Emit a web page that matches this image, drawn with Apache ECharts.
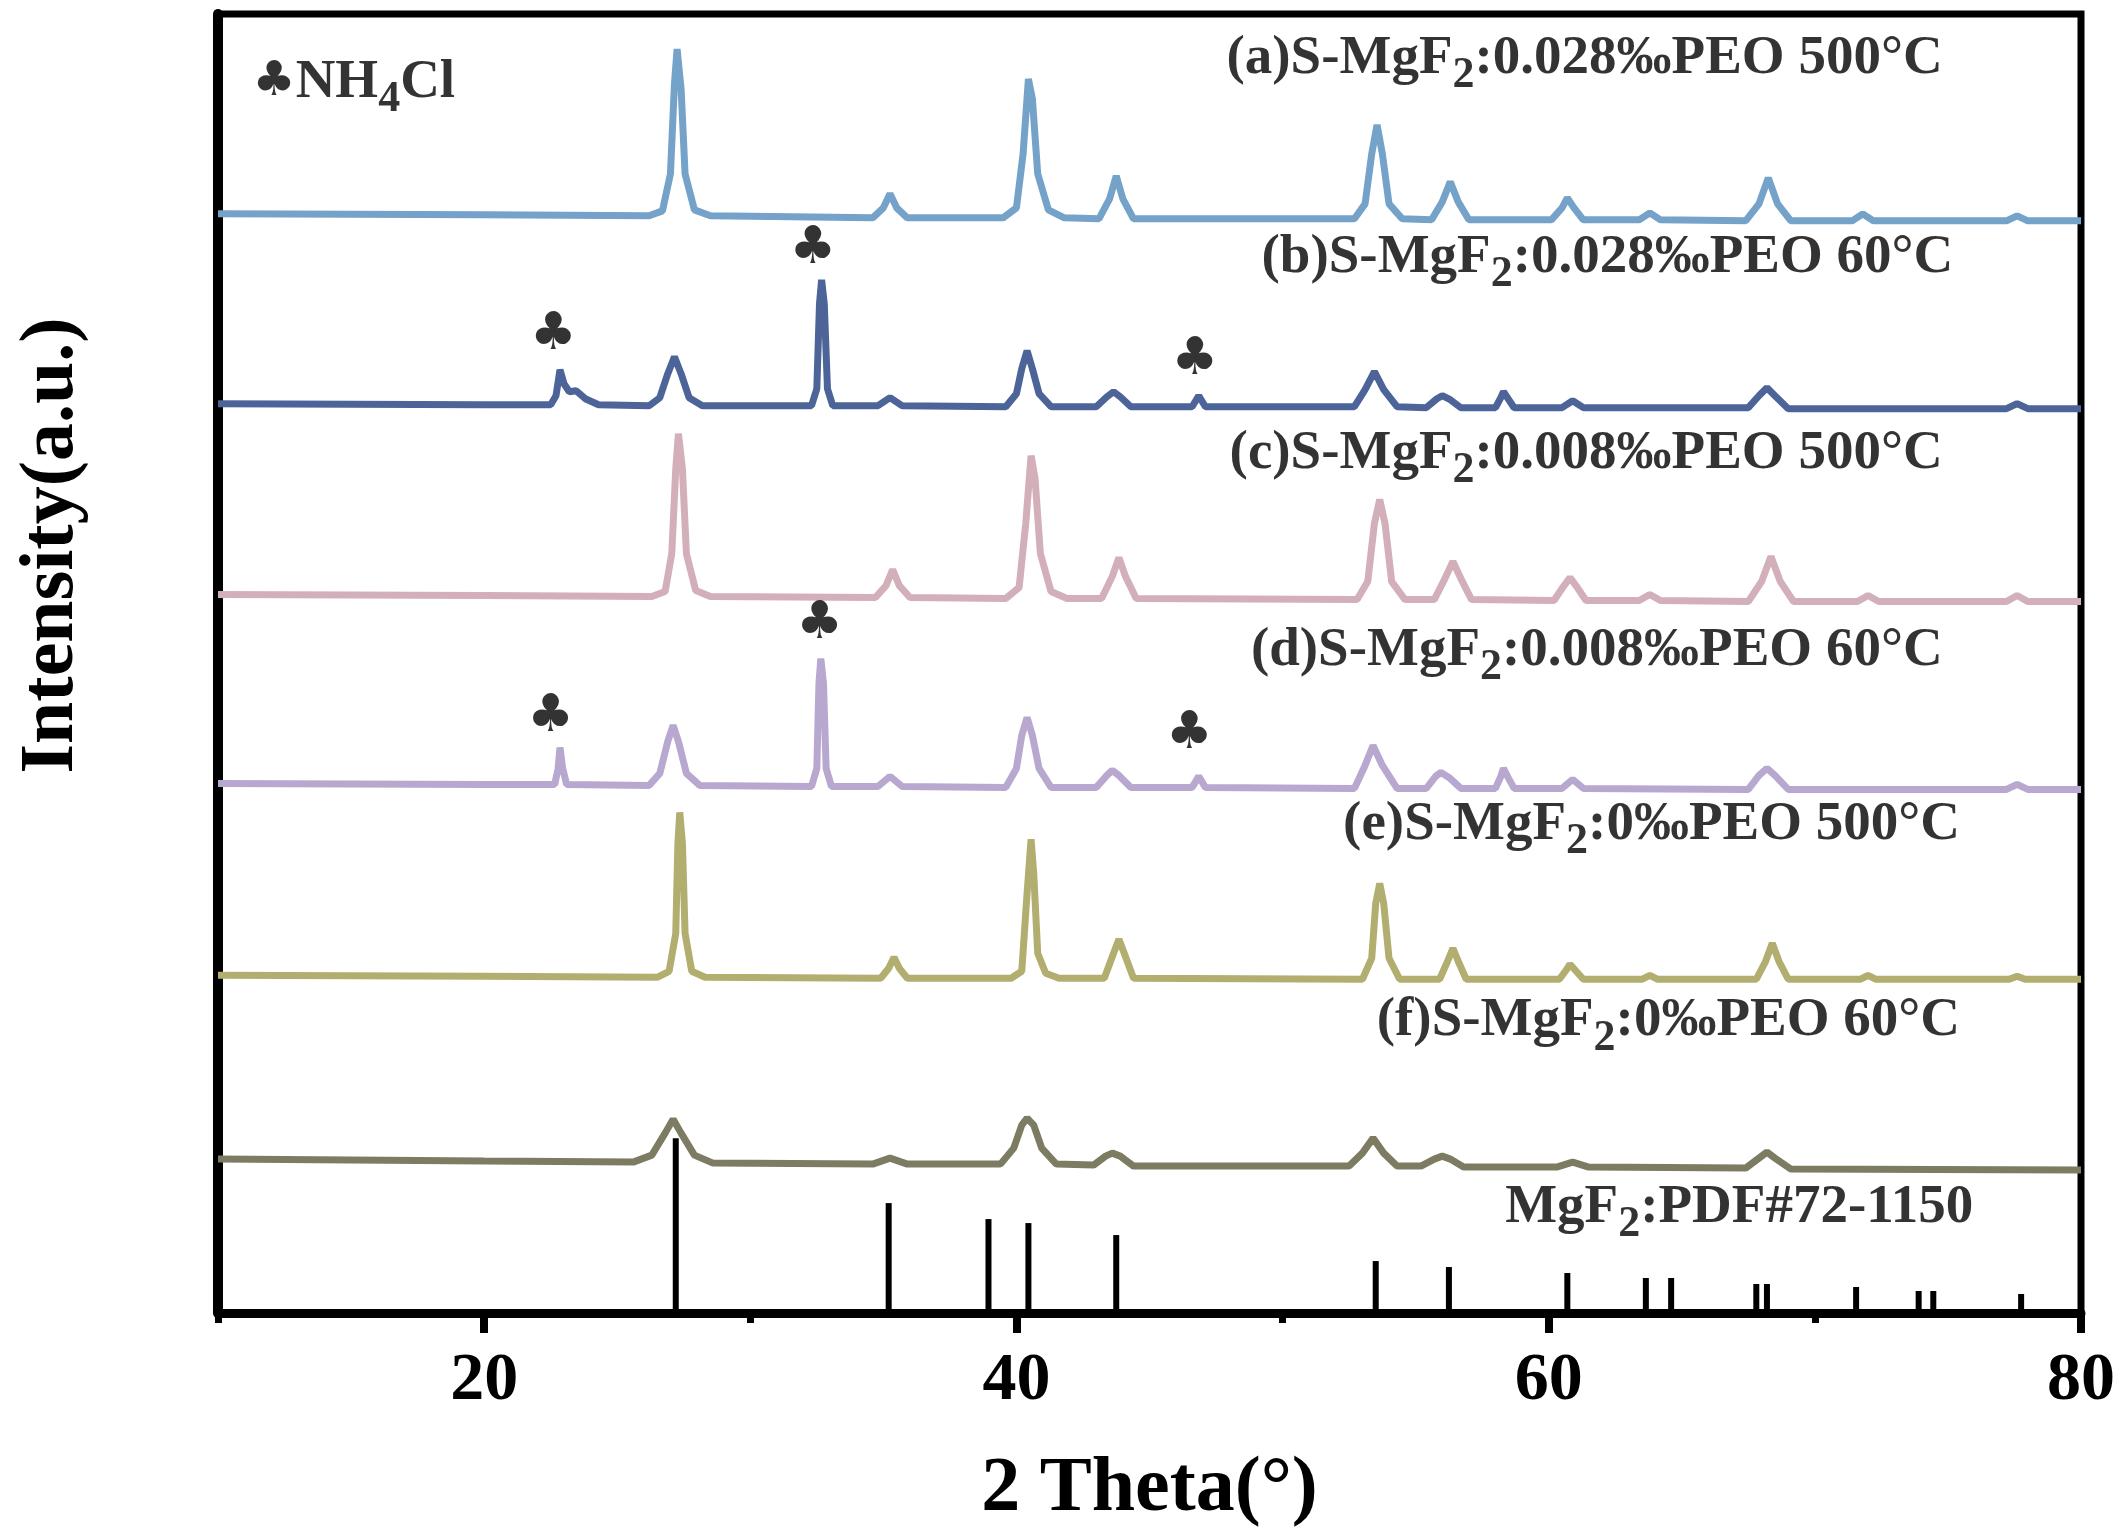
<!DOCTYPE html>
<html>
<head>
<meta charset="utf-8">
<script src="https://cdn.jsdelivr.net/npm/echarts@6/dist/echarts.min.js"></script>
<style>
html,body{margin:0;padding:0;background:#fff;}
#chart{width:2121px;height:1537px;}
</style>
</head>
<body>
<div id="chart"></div>
<script>
// ---- data: [2theta (deg), stacked intensity (a.u.)] ----
const patternA = [[10,1100],[20,1099],[26.2,1098],[26.7,1103],[27.0,1140],[27.15,1230],[27.25,1265],[27.4,1225],[27.55,1140],[27.9,1104],[28.5,1098],
[34.6,1096],[35.0,1106],[35.25,1120],[35.5,1106],[35.9,1096],
[39.5,1096],[40.0,1106],[40.25,1160],[40.45,1235],[40.6,1215],[40.8,1140],[41.2,1104],[41.8,1096],
[43.1,1095],[43.5,1115],[43.75,1138],[44.0,1115],[44.4,1095],
[52.7,1095],[53.1,1110],[53.35,1160],[53.55,1189],[53.75,1160],[54.0,1110],[54.5,1095],
[55.6,1094],[56.0,1112],[56.3,1132],[56.6,1112],[57.0,1094],
[60.1,1094],[60.5,1106],[60.7,1116],[60.95,1106],[61.3,1094],
[63.4,1094],[63.8,1101],[64.2,1094],
[67.4,1093],[67.9,1110],[68.25,1136],[68.6,1110],[69.1,1093],
[71.4,1093],[71.8,1100],[72.2,1093],
[77.2,1093],[77.6,1098],[78.0,1093],[80,1093]];

const patternB = [[10,910],[20,909],[22.5,909],[22.7,918],[22.85,944],[23.0,930],[23.2,922],[23.45,923],[23.8,915],[24.3,909],
[26.2,908],[26.6,916],[26.9,940],[27.15,957],[27.4,940],[27.7,916],[28.2,908],
[32.3,908],[32.5,925],[32.6,1010],[32.68,1034],[32.78,1010],[32.9,925],[33.1,908],
[34.8,908],[35.25,916],[35.7,908],
[39.6,907],[40.0,920],[40.2,945],[40.4,963],[40.6,945],[40.85,920],[41.3,907],
[43.0,907],[43.4,917],[43.65,922],[43.9,917],[44.3,907],
[46.6,907],[46.85,918],[47.1,907],
[52.7,907],[53.1,924],[53.45,942],[53.8,924],[54.3,907],
[55.4,906],[55.8,915],[56.0,918],[56.3,914],[56.7,906],
[58.0,906],[58.2,916],[58.3,922],[58.45,916],[58.7,906],
[60.5,906],[60.9,913],[61.3,906],
[67.5,906],[67.9,918],[68.2,926],[68.5,918],[69.0,905],
[77.2,905],[77.6,910],[78.0,905],[80,905]];

const patternC = [[10,719],[20,718],[26.3,717],[26.8,722],[27.05,760],[27.2,845],[27.3,880],[27.45,845],[27.6,760],[27.95,723],[28.5,717],
[34.7,716],[35.1,728],[35.35,744],[35.6,728],[36.0,716],
[39.6,715],[40.1,726],[40.35,790],[40.55,858],[40.7,835],[40.9,760],[41.3,722],[41.9,715],
[43.2,715],[43.6,737],[43.85,756],[44.1,737],[44.5,715],
[52.8,714],[53.2,732],[53.45,790],[53.65,814],[53.85,790],[54.1,732],[54.6,714],
[55.7,714],[56.1,735],[56.4,752],[56.7,735],[57.1,714],
[60.2,713],[60.55,727],[60.8,736],[61.05,727],[61.4,713],
[63.4,713],[63.8,719],[64.2,713],
[67.5,712],[68.0,732],[68.35,757],[68.7,732],[69.2,712],
[71.6,712],[72.0,718],[72.4,712],
[77.2,712],[77.6,718],[78.0,712],[80,712]];

const patternD = [[10,530],[20,529],[22.65,529],[22.78,545],[22.85,566],[22.95,545],[23.1,529],
[26.2,528],[26.6,540],[26.9,572],[27.1,588],[27.3,572],[27.6,540],[28.1,528],
[32.3,527],[32.5,545],[32.58,630],[32.65,655],[32.75,630],[32.85,545],[33.05,527],
[34.8,527],[35.25,537],[35.7,527],
[39.6,526],[40.0,545],[40.2,578],[40.4,596],[40.6,578],[40.85,545],[41.3,526],
[43.0,526],[43.4,538],[43.6,543],[43.85,538],[44.3,526],
[46.6,526],[46.85,537],[47.1,526],
[52.7,525],[53.1,548],[53.4,568],[53.75,548],[54.3,525],
[55.4,525],[55.75,537],[55.95,541],[56.25,536],[56.7,525],
[58.0,525],[58.2,537],[58.3,545],[58.45,537],[58.7,525],
[60.5,525],[60.9,534],[61.3,525],
[67.5,524],[67.9,538],[68.2,545],[68.5,538],[69.0,524],
[77.2,524],[77.6,529],[78.0,524],[80,524]];

const patternE = [[10,338],[20,337],[26.5,336],[26.95,342],[27.2,380],[27.28,470],[27.35,501],[27.45,470],[27.55,380],[27.8,342],[28.3,336],
[34.9,335],[35.2,345],[35.4,356],[35.6,345],[35.9,335],
[39.8,335],[40.2,342],[40.4,420],[40.55,474],[40.65,440],[40.8,360],[41.1,340],[41.6,335],
[43.3,335],[43.65,360],[43.85,374],[44.05,360],[44.4,335],
[53.0,334],[53.35,355],[53.5,410],[53.65,430],[53.8,410],[54.0,355],[54.4,334],
[55.9,334],[56.2,352],[56.4,365],[56.6,352],[56.9,334],
[60.4,334],[60.65,343],[60.8,349],[61.0,343],[61.3,334],
[63.5,334],[63.8,338],[64.1,334],
[67.8,334],[68.15,352],[68.4,370],[68.65,352],[69.0,334],
[71.7,334],[72.0,338],[72.3,334],
[77.3,334],[77.6,337],[77.9,334],[80,334]];

const patternF = [[10,154],[20,152],[25.6,151],[26.3,158],[26.8,180],[27.1,194],[27.4,180],[27.9,158],[28.6,150],
[34.6,149],[35.25,155],[35.9,149],
[39.4,149],[39.9,165],[40.2,188],[40.4,195],[40.65,188],[40.95,165],[41.5,149],
[42.9,148],[43.35,157],[43.6,160],[43.9,157],[44.4,147],
[52.5,147],[53.0,160],[53.4,175],[53.8,160],[54.3,147],
[55.2,147],[55.7,154],[56.0,157],[56.3,154],[56.8,146],
[60.3,146],[60.9,151],[61.5,146],
[67.4,145],[67.9,155],[68.2,161],[68.5,155],[69.1,144],
[80,143]];

// MgF2 reference card PDF#72-1150 (stick pattern)
const refTheta = [27.2, 35.2, 38.95, 40.45, 43.75, 53.5, 56.25, 60.7, 63.65, 64.6, 67.8, 68.2, 71.55, 73.9, 74.45, 77.75];
const refIntensity = [175, 110, 94, 90, 78, 52, 46, 40, 35, 35, 29, 29, 26, 22, 22, 19];

// NH4Cl marker positions [2theta, intensity]
const nh4clMarks = [[22.6, 978], [32.35, 1064], [46.7, 953], [22.5, 596], [32.6, 689], [46.5, 579]];

// sample labels: [anchor 2theta (right edge), anchor intensity, text before subscript, subscript, text after]
const sampleLabels = [
  [74.8, 1255, '(a)S-MgF', '2', ':0.028\u2030PEO 500\u00B0C'],
  [75.2, 1056, '(b)S-MgF', '2', ':0.028\u2030PEO 60\u00B0C'],
  [74.8, 860, '(c)S-MgF', '2', ':0.008\u2030PEO 500\u00B0C'],
  [74.8, 663, '(d)S-MgF', '2', ':0.008\u2030PEO 60\u00B0C'],
  [75.45, 489, '(e)S-MgF', '2', ':0\u2030PEO 500\u00B0C'],
  [75.45, 292, '(f)S-MgF', '2', ':0\u2030PEO 60\u00B0C'],
  [75.95, 105, 'MgF', '2', ':PDF#72-1150']
];
const legendLabel = [11.3, 1231, 'NH', '4', 'Cl'];

const xMajorTicks = [20, 40, 60, 80];
const xMinorTicks = [10, 30, 50, 70];

const patterns = [patternA, patternB, patternC, patternD, patternE, patternF];
const patternColors = ['#74a2c8', '#4d6499', '#d3afb9', '#b8a7cf', '#b2ae70', '#7d7c62'];

const FONT = 'Liberation Serif, Times New Roman, serif';

const chart = echarts.init(document.getElementById('chart'), null, {renderer: 'canvas'});

const lineSeries = patterns.map((d, i) => ({
  type: 'line',
  data: d,
  showSymbol: false,
  symbol: 'none',
  lineStyle: {color: patternColors[i], width: 7},
  z: 3,
  silent: true
}));

const richMain = {fontSize: 55, fontWeight: 'bold', fontFamily: FONT, color: '#000', lineHeight: 56};
const richSub = {fontSize: 44, fontWeight: 'bold', fontFamily: FONT, color: '#000', lineHeight: 44, padding: [34, 0, 0, 0]};

const option = {
  animation: false,
  backgroundColor: '#fff',
  grid: {left: 218, right: 40, top: 14, bottom: 224, show: true, borderColor: '#000', borderWidth: 7, containLabel: false},
  xAxis: [{
    type: 'value', min: 10, max: 80, position: 'bottom',
    axisLine: {show: true, onZero: false, lineStyle: {color: '#000', width: 9}},
    axisTick: {show: true, inside: false, length: 20, lineStyle: {color: '#000', width: 8}, customValues: xMajorTicks},
    axisLabel: {show: true, customValues: xMajorTicks, margin: 34, fontSize: 68, fontWeight: 'bold', fontFamily: FONT, color: '#000'},
    splitLine: {show: false},
    name: '2 Theta(\u00B0)', nameLocation: 'middle', nameGap: 138,
    nameTextStyle: {fontSize: 78, fontWeight: 'bold', fontFamily: FONT, color: '#000'}
  }, {
    type: 'value', min: 10, max: 80, position: 'bottom',
    axisLine: {show: false},
    axisTick: {show: true, inside: false, length: 10, lineStyle: {color: '#000', width: 7}, customValues: xMinorTicks},
    axisLabel: {show: false},
    splitLine: {show: false}
  }],
  yAxis: {
    type: 'value', min: 0, max: 1300,
    axisLine: {show: true, lineStyle: {color: '#000', width: 10}},
    axisTick: {show: false}, axisLabel: {show: false}, splitLine: {show: false},
    name: 'Intensity(a.u.)', nameLocation: 'middle', nameGap: 128,
    nameTextStyle: {fontSize: 76, fontWeight: 'bold', fontFamily: FONT, color: '#000', padding: [0, 0, 0, 236]}
  },
  series: [
    ...lineSeries,
    {
      type: 'bar',
      data: refTheta.map((t, i) => [t, refIntensity[i]]),
      barWidth: 6,
      itemStyle: {color: '#000'},
      z: 2,
      silent: true
    },
    {
      type: 'scatter',
      data: nh4clMarks,
      symbolSize: 1,
      itemStyle: {color: 'rgba(0,0,0,0)'},
      label: {show: true, position: 'inside', formatter: '\u2663', fontFamily: 'DejaVu Sans', fontSize: 52, color: '#000'},
      z: 5, silent: true
    },
    {
      type: 'scatter',
      data: sampleLabels,
      symbolSize: 1,
      itemStyle: {color: 'rgba(0,0,0,0)'},
      label: {
        show: true, position: 'inside', align: 'right', verticalAlign: 'middle', offset: [0, 0],
        formatter: p => '{m|' + p.data[2] + '}{s|' + p.data[3] + '}{m|' + p.data[4] + '}',
        rich: {m: richMain, s: richSub}
      },
      z: 5, silent: true
    },
    {
      type: 'scatter',
      data: [legendLabel],
      symbolSize: 1,
      itemStyle: {color: 'rgba(0,0,0,0)'},
      label: {
        show: true, position: 'inside', align: 'left', verticalAlign: 'middle', offset: [0, 0],
        formatter: p => '{c|\u2663}{m|' + p.data[2] + '}{s|' + p.data[3] + '}{m|' + p.data[4] + '}',
        rich: {
          c: {fontSize: 48, fontFamily: 'DejaVu Sans', color: '#000', lineHeight: 56},
          m: richMain, s: richSub
        }
      },
      z: 5, silent: true
    }
  ]
};
chart.setOption(option);
</script>
</body>
</html>
